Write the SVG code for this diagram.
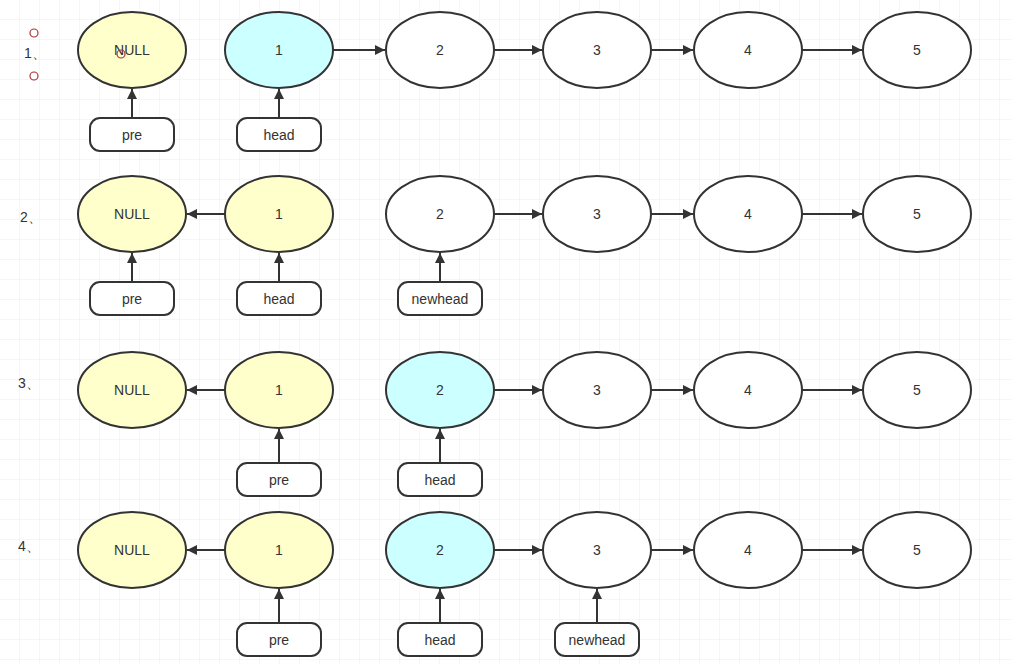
<svg xmlns="http://www.w3.org/2000/svg" width="1012" height="664" viewBox="0 0 1012 664">
<defs>
<pattern id="g" width="20" height="20" patternUnits="userSpaceOnUse"><path d="M20 0V20H0" fill="none" stroke="#ececec" stroke-width="1"/></pattern>
<marker id="a" viewBox="0 0 10 10" refX="10" refY="5" markerWidth="5" markerHeight="5" orient="auto"><path d="M0 0L10 5L0 10z" fill="#333"/></marker>
<style>
text{font-family:"Liberation Sans",Arial,sans-serif;font-size:14px;fill:#333;text-anchor:middle;dominant-baseline:central}
.n ellipse{stroke:#333;stroke-width:2}
.w{fill:#fff}.y{fill:#ffffcc}.c{fill:#ccffff}
.b rect{fill:#fff;stroke:#333;stroke-width:2}
#edges line{stroke:#333;stroke-width:2;marker-end:url(#a)}
.lab{text-anchor:start}
</style>
</defs>
<rect width="1012" height="664" fill="#fff"/>
<rect width="1012" height="664" fill="url(#g)"/>
<g fill="none" stroke="#a33" stroke-width="1.2"><circle cx="34" cy="33" r="4"/><circle cx="34" cy="76" r="4"/></g>
<text class="lab" x="24" y="53">1、</text>
<text class="lab" x="20" y="217">2、</text>
<text class="lab" x="18" y="383">3、</text>
<text class="lab" x="18" y="546">4、</text>
<g id="row1" class="n">
<g id="r1n"><ellipse class="y" cx="132" cy="50" rx="54" ry="38"/><text x="132" y="50">NULL</text></g>
<g id="r1a"><ellipse class="c" cx="279" cy="50" rx="54" ry="38"/><text x="279" y="50">1</text></g>
<g id="r1b"><ellipse class="w" cx="440" cy="50" rx="54" ry="38"/><text x="440" y="50">2</text></g>
<g id="r1c"><ellipse class="w" cx="597" cy="50" rx="54" ry="38"/><text x="597" y="50">3</text></g>
<g id="r1d"><ellipse class="w" cx="748" cy="50" rx="54" ry="38"/><text x="748" y="50">4</text></g>
<g id="r1e"><ellipse class="w" cx="917" cy="50" rx="54" ry="38"/><text x="917" y="50">5</text></g>
</g>
<circle cx="121" cy="54" r="4" fill="none" stroke="#a33" stroke-width="1.2"/>
<g id="row2" class="n">
<g id="r2n"><ellipse class="y" cx="132" cy="214" rx="54" ry="38"/><text x="132" y="214">NULL</text></g>
<g id="r2a"><ellipse class="y" cx="279" cy="214" rx="54" ry="38"/><text x="279" y="214">1</text></g>
<g id="r2b"><ellipse class="w" cx="440" cy="214" rx="54" ry="38"/><text x="440" y="214">2</text></g>
<g id="r2c"><ellipse class="w" cx="597" cy="214" rx="54" ry="38"/><text x="597" y="214">3</text></g>
<g id="r2d"><ellipse class="w" cx="748" cy="214" rx="54" ry="38"/><text x="748" y="214">4</text></g>
<g id="r2e"><ellipse class="w" cx="917" cy="214" rx="54" ry="38"/><text x="917" y="214">5</text></g>
</g>
<g id="row3" class="n">
<g id="r3n"><ellipse class="y" cx="132" cy="390" rx="54" ry="38"/><text x="132" y="390">NULL</text></g>
<g id="r3a"><ellipse class="y" cx="279" cy="390" rx="54" ry="38"/><text x="279" y="390">1</text></g>
<g id="r3b"><ellipse class="c" cx="440" cy="390" rx="54" ry="38"/><text x="440" y="390">2</text></g>
<g id="r3c"><ellipse class="w" cx="597" cy="390" rx="54" ry="38"/><text x="597" y="390">3</text></g>
<g id="r3d"><ellipse class="w" cx="748" cy="390" rx="54" ry="38"/><text x="748" y="390">4</text></g>
<g id="r3e"><ellipse class="w" cx="917" cy="390" rx="54" ry="38"/><text x="917" y="390">5</text></g>
</g>
<g id="row4" class="n">
<g id="r4n"><ellipse class="y" cx="132" cy="550" rx="54" ry="38"/><text x="132" y="550">NULL</text></g>
<g id="r4a"><ellipse class="y" cx="279" cy="550" rx="54" ry="38"/><text x="279" y="550">1</text></g>
<g id="r4b"><ellipse class="c" cx="440" cy="550" rx="54" ry="38"/><text x="440" y="550">2</text></g>
<g id="r4c"><ellipse class="w" cx="597" cy="550" rx="54" ry="38"/><text x="597" y="550">3</text></g>
<g id="r4d"><ellipse class="w" cx="748" cy="550" rx="54" ry="38"/><text x="748" y="550">4</text></g>
<g id="r4e"><ellipse class="w" cx="917" cy="550" rx="54" ry="38"/><text x="917" y="550">5</text></g>
</g>
<g id="labels" class="b">
<g id="b1p"><rect x="90" y="118" width="84" height="33" rx="10"/><text x="132" y="135">pre</text></g>
<g id="b1h"><rect x="237" y="118" width="84" height="33" rx="10"/><text x="279" y="135">head</text></g>
<g id="b2p"><rect x="90" y="282" width="84" height="33" rx="10"/><text x="132" y="299">pre</text></g>
<g id="b2h"><rect x="237" y="282" width="84" height="33" rx="10"/><text x="279" y="299">head</text></g>
<g id="b2n"><rect x="398" y="282" width="84" height="33" rx="10"/><text x="440" y="299">newhead</text></g>
<g id="b3p"><rect x="237" y="463" width="84" height="33" rx="10"/><text x="279" y="480">pre</text></g>
<g id="b3h"><rect x="398" y="463" width="84" height="33" rx="10"/><text x="440" y="480">head</text></g>
<g id="b4p"><rect x="237" y="623" width="84" height="33" rx="10"/><text x="279" y="640">pre</text></g>
<g id="b4h"><rect x="398" y="623" width="84" height="33" rx="10"/><text x="440" y="640">head</text></g>
<g id="b4n"><rect x="555" y="623" width="84" height="33" rx="10"/><text x="597" y="640">newhead</text></g>
</g>
<g id="edges">
<line x1="333" y1="50" x2="385" y2="50"/><line x1="494" y1="50" x2="542" y2="50"/><line x1="651" y1="50" x2="693" y2="50"/><line x1="802" y1="50" x2="862" y2="50"/>
<line x1="132" y1="118" x2="132" y2="89"/><line x1="279" y1="118" x2="279" y2="89"/>
<line x1="225" y1="214" x2="187" y2="214"/><line x1="494" y1="214" x2="542" y2="214"/><line x1="651" y1="214" x2="693" y2="214"/><line x1="802" y1="214" x2="862" y2="214"/>
<line x1="132" y1="282" x2="132" y2="253"/><line x1="279" y1="282" x2="279" y2="253"/><line x1="440" y1="282" x2="440" y2="253"/>
<line x1="225" y1="390" x2="187" y2="390"/><line x1="494" y1="390" x2="542" y2="390"/><line x1="651" y1="390" x2="693" y2="390"/><line x1="802" y1="390" x2="862" y2="390"/>
<line x1="279" y1="463" x2="279" y2="429"/><line x1="440" y1="463" x2="440" y2="429"/>
<line x1="225" y1="550" x2="187" y2="550"/><line x1="494" y1="550" x2="542" y2="550"/><line x1="651" y1="550" x2="693" y2="550"/><line x1="802" y1="550" x2="862" y2="550"/>
<line x1="279" y1="623" x2="279" y2="589"/><line x1="440" y1="623" x2="440" y2="589"/><line x1="597" y1="623" x2="597" y2="589"/>
</g>
</svg>
